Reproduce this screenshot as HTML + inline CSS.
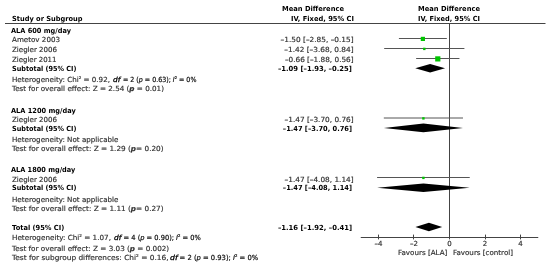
<!DOCTYPE html>
<html><head><meta charset="utf-8"><style>
html,body{margin:0;padding:0;background:#fff;}
body{width:550px;height:266px;overflow:hidden;}
svg{display:block;filter:blur(0.3px);}
text{font-family:'DejaVu Sans', 'Liberation Sans', sans-serif;fill:#333;}
text.r{font-size:7.0px;font-weight:400;stroke:#333;stroke-width:0.18px;}
text.b{font-size:7.0px;font-weight:700;fill:#000;}
text.dfi{fill:#000;stroke:#000;stroke-width:0.3px;font-style:italic;}
text.dk{fill:#111;stroke:#111;stroke-width:0.22px;}
.ci{stroke:#555;stroke-width:1;}
.ax{stroke:#444;stroke-width:1;}
</style></head><body>
<svg width="550" height="266" viewBox="0 0 550 266">
<line x1="5" y1="23.5" x2="545.5" y2="23.5" class="ax"/>
<line x1="449.5" y1="23.5" x2="449.5" y2="237.5" class="ax"/>
<line x1="360.75" y1="237.5" x2="538.25" y2="237.5" class="ax"/>
<line x1="378.5" y1="234.6" x2="378.5" y2="239.4" class="ax"/>
<line x1="413.5" y1="234.6" x2="413.5" y2="239.4" class="ax"/>
<line x1="449.5" y1="234.6" x2="449.5" y2="239.4" class="ax"/>
<line x1="485.5" y1="234.6" x2="485.5" y2="239.4" class="ax"/>
<line x1="520.5" y1="234.6" x2="520.5" y2="239.4" class="ax"/>
<text class="b" x="282" y="11" textLength="62" lengthAdjust="spacingAndGlyphs">Mean Difference</text>
<text class="b" x="418" y="11" textLength="62" lengthAdjust="spacingAndGlyphs">Mean Difference</text>
<text class="b" x="12" y="21" textLength="70.6" lengthAdjust="spacingAndGlyphs">Study or Subgroup</text>
<text class="b" x="291" y="21" textLength="63" lengthAdjust="spacingAndGlyphs">IV, Fixed, 95% CI</text>
<text class="b" x="418" y="21" textLength="62" lengthAdjust="spacingAndGlyphs">IV, Fixed, 95% CI</text>
<text class="b" x="11" y="32.8" textLength="60" lengthAdjust="spacingAndGlyphs">ALA 600 mg/day</text>
<text class="r" x="12" y="42.2" textLength="48" lengthAdjust="spacingAndGlyphs">Ametov 2003</text>
<text class="r" x="280.6" y="42.2" textLength="73" lengthAdjust="spacingAndGlyphs">&#8211;1.50 [&#8211;2.85, &#8211;0.15]</text>
<line x1="398.91" y1="38.50" x2="446.84" y2="38.50" class="ci"/>
<rect x="420.77" y="36.80" width="4.2" height="4.2" fill="#00c400"/>
<text class="r" x="12" y="51.9" textLength="45" lengthAdjust="spacingAndGlyphs">Ziegler 2006</text>
<text class="r" x="284.3" y="51.9" textLength="69.3" lengthAdjust="spacingAndGlyphs">&#8211;1.42 [&#8211;3.68, 0.84]</text>
<line x1="384.18" y1="48.50" x2="464.41" y2="48.50" class="ci"/>
<rect x="423.10" y="47.70" width="2.4" height="2.4" fill="#00c400"/>
<text class="r" x="12" y="61.7" textLength="44.5" lengthAdjust="spacingAndGlyphs">Ziegler 2011</text>
<text class="r" x="284.90000000000003" y="61.7" textLength="68.7" lengthAdjust="spacingAndGlyphs">&#8211;0.66 [&#8211;1.88, 0.56]</text>
<line x1="416.13" y1="58.50" x2="459.44" y2="58.50" class="ci"/>
<rect x="435.19" y="56.30" width="5.2" height="5.2" fill="#00c400"/>
<text class="b" x="12" y="70.5" textLength="64.5" lengthAdjust="spacingAndGlyphs">Subtotal (95% CI)</text>
<text class="b" x="277.9" y="70.5" textLength="74" lengthAdjust="spacingAndGlyphs">&#8211;1.09 [&#8211;1.93, &#8211;0.25]</text>
<polygon points="415.24,68.20 430.15,64.00 445.06,68.20 430.15,72.40" fill="#000"/>
<text class="r" x="12" y="82.0" textLength="98" lengthAdjust="spacingAndGlyphs">Heterogeneity: Chi<tspan dy="-2.9" font-size="4">2</tspan><tspan dy="2.9"> = 0.92,</tspan></text>
<text class="r dfi" x="113" y="82.0" textLength="7.3" lengthAdjust="spacingAndGlyphs">df</text>
<text class="r dk" x="123" y="82.0" textLength="73.4" lengthAdjust="spacingAndGlyphs">= 2 (<tspan font-style="italic">p</tspan> = 0.63); <tspan font-style="italic">I</tspan><tspan dy="-2.9" font-size="4">2</tspan><tspan dy="2.9"> = 0%</tspan></text>
<text class="r" x="12" y="91.2" textLength="152" lengthAdjust="spacingAndGlyphs">Test for overall effect: Z = 2.54 (<tspan font-style="italic" font-weight="700">p</tspan> = 0.01)</text>
<text class="b" x="11" y="112.5" textLength="64.7" lengthAdjust="spacingAndGlyphs">ALA 1200 mg/day</text>
<text class="r" x="12" y="121.8" textLength="45" lengthAdjust="spacingAndGlyphs">Ziegler 2006</text>
<text class="r" x="284.6" y="121.8" textLength="69" lengthAdjust="spacingAndGlyphs">&#8211;1.47 [&#8211;3.70, 0.76]</text>
<line x1="383.82" y1="118.00" x2="462.99" y2="118.00" class="ci"/>
<rect x="422.21" y="117.20" width="2.4" height="2.4" fill="#00c400"/>
<text class="b" x="12" y="130.5" textLength="64.5" lengthAdjust="spacingAndGlyphs">Subtotal (95% CI)</text>
<text class="b" x="282.8" y="130.5" textLength="69.2" lengthAdjust="spacingAndGlyphs">&#8211;1.47 [&#8211;3.70, 0.76]</text>
<polygon points="383.82,127.90 423.41,123.60 462.99,127.90 423.41,132.20" fill="#000"/>
<text class="r" x="12" y="141.7" textLength="106.5" lengthAdjust="spacingAndGlyphs">Heterogeneity: Not applicable</text>
<text class="r" x="12" y="151.0" textLength="151.6" lengthAdjust="spacingAndGlyphs">Test for overall effect: Z = 1.29 (<tspan font-style="italic" font-weight="700">p</tspan>= 0.20)</text>
<text class="b" x="11" y="172.3" textLength="64.3" lengthAdjust="spacingAndGlyphs">ALA 1800 mg/day</text>
<text class="r" x="12" y="181.60000000000002" textLength="45" lengthAdjust="spacingAndGlyphs">Ziegler 2006</text>
<text class="r" x="284.6" y="181.60000000000002" textLength="69" lengthAdjust="spacingAndGlyphs">&#8211;1.47 [&#8211;4.08, 1.14]</text>
<line x1="377.08" y1="177.50" x2="469.74" y2="177.50" class="ci"/>
<rect x="422.21" y="176.70" width="2.4" height="2.4" fill="#00c400"/>
<text class="b" x="12" y="190.3" textLength="64.5" lengthAdjust="spacingAndGlyphs">Subtotal (95% CI)</text>
<text class="b" x="282.8" y="190.3" textLength="69.2" lengthAdjust="spacingAndGlyphs">&#8211;1.47 [&#8211;4.08, 1.14]</text>
<polygon points="377.08,187.70 423.41,183.40 469.74,187.70 423.41,192.00" fill="#000"/>
<text class="r" x="12" y="201.5" textLength="106.5" lengthAdjust="spacingAndGlyphs">Heterogeneity: Not applicable</text>
<text class="r" x="12" y="210.8" textLength="151.6" lengthAdjust="spacingAndGlyphs">Test for overall effect: Z = 1.11 (<tspan font-style="italic" font-weight="700">p</tspan>= 0.27)</text>
<text class="b" x="12" y="229.5" textLength="52.3" lengthAdjust="spacingAndGlyphs">Total (95% CI)</text>
<text class="b" x="277.9" y="229.5" textLength="74.2" lengthAdjust="spacingAndGlyphs">&#8211;1.16 [&#8211;1.92, &#8211;0.41]</text>
<polygon points="415.42,227.00 428.91,222.80 442.22,227.00 428.91,231.20" fill="#000"/>
<text class="r" x="12" y="240.3" textLength="99" lengthAdjust="spacingAndGlyphs">Heterogeneity: Chi<tspan dy="-2.9" font-size="4">2</tspan><tspan dy="2.9"> = 1.07,</tspan></text>
<text class="r dfi" x="114" y="240.3" textLength="7.3" lengthAdjust="spacingAndGlyphs">df</text>
<text class="r dk" x="123.6" y="240.3" textLength="77.3" lengthAdjust="spacingAndGlyphs">= 4 (<tspan font-style="italic">p</tspan> = 0.90); <tspan font-style="italic">I</tspan><tspan dy="-2.9" font-size="4">2</tspan><tspan dy="2.9"> = 0%</tspan></text>
<text class="r" x="12" y="250.6" textLength="157.2" lengthAdjust="spacingAndGlyphs">Test for overall effect: Z = 3.03 (<tspan font-style="italic" font-weight="700">p</tspan> = 0.002)</text>
<text class="r" x="12" y="260.0" textLength="156.5" lengthAdjust="spacingAndGlyphs">Test for subgroup differences: Chi<tspan dy="-2.9" font-size="4">2</tspan><tspan dy="2.9"> = 0.16,</tspan></text>
<text class="r dfi" x="170" y="260.0" textLength="7.6" lengthAdjust="spacingAndGlyphs">df</text>
<text class="r dk" x="179.6" y="260.0" textLength="78.6" lengthAdjust="spacingAndGlyphs">= 2 (<tspan font-style="italic">p</tspan> = 0.93); <tspan font-style="italic">I</tspan><tspan dy="-2.9" font-size="4">2</tspan><tspan dy="2.9"> = 0%</tspan></text>
<text class="r" x="378.5" y="245.5" text-anchor="middle">&#8211;4</text>
<text class="r" x="414.0" y="245.5" text-anchor="middle">&#8211;2</text>
<text class="r" x="449.5" y="245.5" text-anchor="middle">0</text>
<text class="r" x="485.0" y="245.5" text-anchor="middle">2</text>
<text class="r" x="520.5" y="245.5" text-anchor="middle">4</text>
<text class="r" x="398" y="254.5" textLength="49.4" lengthAdjust="spacingAndGlyphs">Favours [ALA]</text>
<text class="r" x="453" y="254.5" textLength="60" lengthAdjust="spacingAndGlyphs">Favours [control]</text>
</svg>
</body></html>
